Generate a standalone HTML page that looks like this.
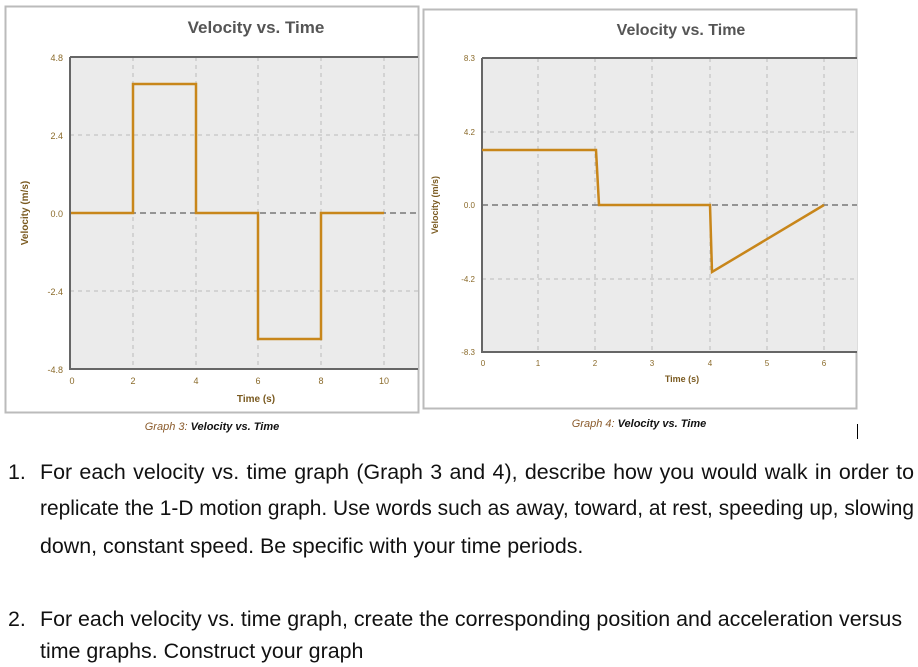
<!DOCTYPE html>
<html><head><style>
body{margin:0;width:918px;height:667px;background:#fff;overflow:hidden;position:relative;font-family:"Liberation Sans",Arial,sans-serif}
.q{position:absolute;font-size:21.4px;color:#111;white-space:nowrap}
.j{width:874px;text-align:justify;text-align-last:justify}
</style></head><body>
<svg width="918" height="440" style="position:absolute;left:0;top:0" font-family="Liberation Sans,Arial,sans-serif">
<rect x="5.5" y="6.5" width="413" height="406" fill="#fff" stroke="#bbb" stroke-width="2"/>
<text x="256" y="33" font-size="17" font-weight="bold" fill="#555" text-anchor="middle">Velocity vs. Time</text>
<rect x="70" y="57" width="348" height="312" fill="#ebebeb"/>
<g stroke="#bbb" stroke-dasharray="4,4" stroke-width="1">
<line x1="133" y1="57" x2="133" y2="369"/><line x1="196" y1="57" x2="196" y2="369"/><line x1="258" y1="57" x2="258" y2="369"/><line x1="321" y1="57" x2="321" y2="369"/><line x1="384" y1="57" x2="384" y2="369"/>
<line x1="70" y1="135" x2="418" y2="135"/><line x1="70" y1="291" x2="418" y2="291"/>
</g>
<line x1="70" y1="213" x2="418" y2="213" stroke="#777" stroke-dasharray="6,4" stroke-width="1.5"/>
<polyline points="70,57 418,57" stroke="#666" stroke-width="2" fill="none"/>
<polyline points="70,57 70,369 418,369" stroke="#666" stroke-width="2" fill="none"/>
<polyline points="71,213 133,213 133,84 196,84 196,213 258,213 258,339 321,339 321,213 384,213" stroke="#c8861a" stroke-width="2.5" fill="none"/>
<g font-size="9" fill="#8a6a2a" text-anchor="end">
<text x="63" y="61">4.8</text><text x="63" y="139">2.4</text><text x="63" y="217">0.0</text><text x="63" y="295">-2.4</text><text x="63" y="373">-4.8</text></g>
<g font-size="9" fill="#8a6a2a" text-anchor="middle">
<text x="72" y="384">0</text><text x="133" y="384">2</text><text x="196" y="384">4</text><text x="258" y="384">6</text><text x="321" y="384">8</text><text x="384" y="384">10</text></g>
<text x="256" y="402" font-size="10" font-weight="bold" fill="#7a5a20" text-anchor="middle">Time (s)</text>
<text transform="translate(28,213) rotate(-90)" font-size="10" font-weight="bold" fill="#7a5a20" text-anchor="middle">Velocity (m/s)</text>
<text x="212" y="430" font-size="11" font-style="italic" text-anchor="middle"><tspan fill="#8a5a2a">Graph 3:</tspan><tspan fill="#111" font-weight="bold"> Velocity vs. Time</tspan></text>
<rect x="423.5" y="9.5" width="433" height="399" fill="#fff" stroke="#bbb" stroke-width="2"/>
<text x="681" y="35" font-size="16" font-weight="bold" fill="#555" text-anchor="middle">Velocity vs. Time</text>
<rect x="482" y="58" width="375" height="294" fill="#ebebeb"/>
<g stroke="#bbb" stroke-dasharray="4,4" stroke-width="1">
<line x1="538" y1="58" x2="538" y2="352"/><line x1="595" y1="58" x2="595" y2="352"/><line x1="652" y1="58" x2="652" y2="352"/><line x1="710" y1="58" x2="710" y2="352"/><line x1="767" y1="58" x2="767" y2="352"/><line x1="824" y1="58" x2="824" y2="352"/>
<line x1="482" y1="132" x2="857" y2="132"/><line x1="482" y1="279" x2="857" y2="279"/>
</g>
<line x1="482" y1="205" x2="857" y2="205" stroke="#777" stroke-dasharray="6,4" stroke-width="1.5"/>
<polyline points="482,58 857,58" stroke="#666" stroke-width="2" fill="none"/>
<polyline points="482,58 482,352 857,352" stroke="#666" stroke-width="2" fill="none"/>
<polyline points="482,150 596,150 599,205 710,205 712,272 824,205" stroke="#c8861a" stroke-width="2.5" fill="none"/>
<g font-size="8" fill="#8a6a2a" text-anchor="end">
<text x="475" y="61">8.3</text><text x="475" y="135">4.2</text><text x="475" y="208">0.0</text><text x="475" y="282">-4.2</text><text x="475" y="355">-8.3</text></g>
<g font-size="8" fill="#8a6a2a" text-anchor="middle">
<text x="483" y="366">0</text><text x="538" y="366">1</text><text x="595" y="366">2</text><text x="652" y="366">3</text><text x="710" y="366">4</text><text x="767" y="366">5</text><text x="824" y="366">6</text></g>
<text x="682" y="382" font-size="9" font-weight="bold" fill="#7a5a20" text-anchor="middle">Time (s)</text>
<text transform="translate(438,205) rotate(-90)" font-size="9" font-weight="bold" fill="#7a5a20" text-anchor="middle">Velocity (m/s)</text>
<text x="639" y="427" font-size="11" font-style="italic" text-anchor="middle"><tspan fill="#8a5a2a">Graph 4:</tspan><tspan fill="#111" font-weight="bold"> Velocity vs. Time</tspan></text>
<line x1="857.5" y1="424" x2="857.5" y2="439" stroke="#000" stroke-width="1"/>
</svg>
<div class="q" style="left:8px;top:460px">1.</div>
<div class="q j" style="left:40px;top:460px">For each velocity vs. time graph (Graph 3 and 4), describe how you would walk in order to</div>
<div class="q j" style="left:40px;top:497px;font-size:20.9px">replicate the 1-D motion graph. Use words such as away, toward, at rest, speeding up, slowing</div>
<div class="q" style="left:40px;top:534px">down, constant speed. Be specific with your time periods.</div>
<div class="q" style="left:8px;top:607px">2.</div>
<div class="q" style="left:40px;top:607px">For each velocity vs. time graph, create the corresponding position and acceleration versus</div>
<div class="q" style="left:40px;top:639px">time graphs. Construct your graph</div>
</body></html>
